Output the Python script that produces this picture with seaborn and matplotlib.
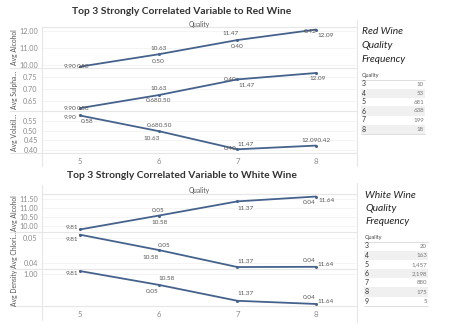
import matplotlib
matplotlib.use("Agg")
import matplotlib.pyplot as plt
import seaborn as sns
import pandas as pd
from decimal import Decimal, ROUND_HALF_UP
from matplotlib.lines import Line2D
from matplotlib.patches import Rectangle

# ---------------- data ----------------
quality = [5, 6, 7, 8]
red_alcohol = [9.90, 10.63, 11.47, 12.09]
red_sulphates = [0.620, 0.675, 0.741, 0.768]
red_volatile = [0.577, 0.497, 0.404, 0.423]
white_alcohol = [9.81, 10.58, 11.37, 11.64]
white_chlorides = [0.0515, 0.0452, 0.0382, 0.0383]
white_density = [0.9953, 0.9940, 0.9925, 0.9922]

red_freq_quality = [3, 4, 5, 6, 7, 8]
red_freq_count = [10, 53, 681, 638, 199, 18]
white_freq_quality = [3, 4, 5, 6, 7, 8, 9]
white_freq_count = [20, 163, 1457, 2198, 880, 175, 5]

red_title = "Top 3 Strongly Correlated Variable to Red Wine"
white_title = "Top 3 Strongly Correlated Variable to White Wine"
red_ylabels = ["Avg Alcohol", "Avg Sulpha...", "Avg Volatil..."]
white_ylabels = ["Avg Alcohol", "Avg Chlori...", "Avg Density"]
red_yticks = [[10, 11, 12], [0.65, 0.70, 0.75], [0.40, 0.45, 0.50, 0.55]]
white_yticks = [[10, 10.5, 11, 11.5], [0.04, 0.05], [0.995]]

# ---------------- style ----------------
W, H = 474, 327
FONT = "Lato"
LINE = "#45628d"
GRID = "#e6e6e6"
TICKC = "#8a8a8a"
LABC = "#555555"

sns.set_theme(style="white")
plt.rcParams["font.family"] = [FONT, "DejaVu Sans"]

fig = plt.figure(figsize=(W / 100, H / 100), dpi=100)
fig.patch.set_facecolor("white")


def rect(x0, y0, x1, y1):
    return [x0 / W, 1 - y1 / H, (x1 - x0) / W, (y1 - y0) / H]


def hline(y, x0, x1, color=GRID, lw=0.8):
    fig.add_artist(Line2D([x0 / W, x1 / W], [1 - y / H, 1 - y / H],
                          color=color, lw=lw, transform=fig.transFigure))


def vline(x, y0, y1, color=GRID, lw=0.8):
    fig.add_artist(Line2D([x / W, x / W], [1 - y0 / H, 1 - y1 / H],
                          color=color, lw=lw, transform=fig.transFigure))


def f2(v):
    return str(Decimal(repr(v)).quantize(Decimal("0.01"), rounding=ROUND_HALF_UP))


def panel(y0, y1, values, ylim, yticks, labels, bottom=False):
    ax = fig.add_axes(rect(40.5, y0, 355.5, y1))
    df = pd.DataFrame({"Quality": quality, "Value": values})
    sns.lineplot(data=df, x="Quality", y="Value", ax=ax, color=LINE,
                 linewidth=1.3, marker="o", markersize=2.2,
                 markeredgewidth=0)
    ax.set_xlim(4.5, 8.5)
    ax.set_ylim(*ylim)
    ax.set_yticks(yticks)
    ax.set_yticklabels([f2(t) for t in yticks])
    ax.set_xticks(quality)
    ax.set_xlabel("")
    ax.set_ylabel("")
    for s in ax.spines.values():
        s.set_visible(False)
    ax.tick_params(axis="y", length=0, pad=2.0, labelsize=5.2, labelcolor=TICKC)
    if bottom:
        ax.tick_params(axis="x", length=0, pad=3.5, labelsize=5.6, labelcolor=TICKC)
    else:
        ax.tick_params(axis="x", length=0, labelbottom=False)
    for t in yticks:
        ax.axhline(t, color="#f3f3f3", lw=0.6, zorder=0)
    ax.patch.set_alpha(0)
    for idx, txt, dx, dy, ha in labels:
        ax.annotate(txt, (quality[idx], values[idx]), xytext=(dx, -dy),
                    textcoords="offset pixels", ha=ha, va="center",
                    fontsize=4.6, color=LABC)
    return ax


# ---------------- red wine ----------------
ra = [f2(v) for v in red_alcohol]
rs = [f2(v) for v in red_sulphates]
rv = [f2(v) for v in red_volatile]

fig.text(182 / W, 1 - 12 / H, red_title, ha="center", va="center",
         fontsize=7.4, fontweight="bold", color="#333333")
fig.text(199 / W, 1 - 24 / H, "Quality", ha="center", va="center",
         fontsize=4.8, color="#555555")

panel(27, 68, red_alcohol, (9.82, 12.24), red_yticks[0], [
    (0, ra[0], -3, 0, "right"), (0, rv[0], -3, 0, "left"),
    (1, ra[1], 0, -6, "center"), (1, rv[1], 0, 7, "center"),
    (2, ra[2], -7, -7, "center"), (2, rv[2], 0, 6, "center"),
    (3, rv[3], 0, 2, "right"), (3, ra[3], 1, 6, "left"),
])
panel(68, 111, red_sulphates, (0.608, 0.789), red_yticks[1], [
    (0, ra[0], -3, 0, "right"), (0, rv[0], -3, 0, "left"),
    (1, ra[1], 0, -7, "center"), (1, rs[1] + rv[1], 0, 5, "center"),
    (2, rv[2], -1, 0, "right"), (2, ra[2], 1, 6, "left"),
    (3, ra[3], 2, 6, "center"),
])
panel(111, 153, red_volatile, (0.385, 0.600), red_yticks[2], [
    (0, ra[0], -3, 2, "right"), (0, rv[0], 1, 6, "left"),
    (1, rs[1] + rv[1], 1, -6, "center"), (1, ra[1], -7, 7, "center"),
    (2, rv[2], -1, -1, "right"), (2, ra[2], 0, -5, "left"),
    (3, ra[3] + rv[3], 0, -5, "center"),
], bottom=True)

for lab, (a, b) in zip(red_ylabels, [(27, 68), (68, 111), (111, 153)]):
    fig.text(14.5 / W, 1 - (a + b) / 2 / H, lab, rotation=90, ha="center",
             va="center", fontsize=4.9, color="#555555")

hline(27, 42, 356)
for y in (68, 111, 153):
    hline(y, 10, 356)
vline(42, 27, 166)
vline(356.5, 20, 166)

# ---------------- white wine ----------------
wa = [f2(v) for v in white_alcohol]
wc = [f2(v) for v in white_chlorides]

fig.text(182 / W, 1 - 175 / H, white_title, ha="center", va="center",
         fontsize=7.4, fontweight="bold", color="#333333")
fig.text(199 / W, 1 - 190 / H, "Quality", ha="center", va="center",
         fontsize=4.8, color="#555555")

panel(194, 232, white_alcohol, (9.67, 11.78), white_yticks[0], [
    (0, wa[0], -2, -2, "right"),
    (1, wc[1], 0, -5, "center"), (1, wa[1], 1, 7, "center"),
    (2, wa[2], 0, 7, "left"),
    (3, wc[3], -1, 6, "right"), (3, wa[3], 2, 4, "left"),
])
panel(232, 269, white_chlorides, (0.0374, 0.0526), white_yticks[1], [
    (0, wa[0], -2, 5, "right"),
    (1, wc[1], 6, -5, "center"), (1, wa[1], -8, 7, "center"),
    (2, wa[2], 0, -6, "left"),
    (3, wc[3], -1, -6, "right"), (3, wa[3], 1, -2, "left"),
])
panel(269, 306, white_density, (0.99201, 0.99549), white_yticks[2], [
    (0, wa[0], -2, 2, "right"),
    (1, wa[1], 0, -6, "left"), (1, wc[1], 0, 7, "right"),
    (2, wa[2], 0, -7, "left"),
    (3, wc[3], -1, -6, "right"), (3, wa[3], 1, -2, "left"),
], bottom=True)

for lab, (a, b) in zip(white_ylabels, [(194, 232), (232, 269), (269, 306)]):
    fig.text(14.5 / W, 1 - (a + b) / 2 / H, lab, rotation=90, ha="center",
             va="center", fontsize=4.9, color="#555555")

hline(194, 42, 356)
for y in (232, 269, 306):
    hline(y, 10, 356)
vline(42, 185, 320)
vline(356.5, 183, 322)


# ---------------- frequency tables ----------------
def table(title_lines, ty, levels, counts, x0, x1, hy, row0, step):
    for i, line in enumerate(title_lines):
        fig.text(x0 / W, 1 - (ty + i * 13.5) / H, line, ha="left", va="center",
                 fontsize=7.4, style="italic", color="#222222")
    fig.text(x0 / W, 1 - hy / H, "Quality", ha="left", va="center",
             fontsize=4.0, color="#444444")
    hline(hy + 4.5, x0 - 1, x1 + 1, color="#d8d8d8", lw=0.6)
    for i, (q, c) in enumerate(zip(levels, counts)):
        yc = row0 + i * step
        if i % 2 == 1:
            fig.add_artist(Rectangle(((x0 - 1) / W, 1 - (yc + step / 2) / H),
                                     (x1 - x0 + 2) / W, step / H,
                                     transform=fig.transFigure,
                                     facecolor="#f0f0f0", edgecolor="none",
                                     zorder=0))
        fig.text(x0 / W, 1 - yc / H, str(q), ha="left", va="center",
                 fontsize=5.0, color="#333333")
        fig.text(x1 / W, 1 - yc / H, f"{c:,}", ha="right", va="center",
                 fontsize=4.4, color="#777777")
    hline(row0 + (len(levels) - 0.5) * step + 0.5, x0 - 1, x1 + 1,
          color="#d8d8d8", lw=0.6)


table(["Red Wine", "Quality", "Frequency"], 32, red_freq_quality,
      red_freq_count, 362, 424, 75, 84, 9.0)
table(["White Wine", "Quality", "Frequency"], 195, white_freq_quality,
      white_freq_count, 365, 427, 237, 246, 9.2)

fig.savefig("out.png", dpi=100, facecolor="white")
